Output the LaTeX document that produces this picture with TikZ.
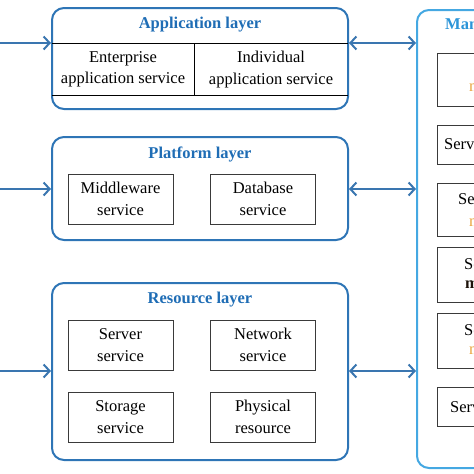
\documentclass[tikz,border=0pt]{standalone}
\usepackage{fontspec}
\setmainfont{Liberation Serif}
\usetikzlibrary{arrows.meta}
\definecolor{layerblue}{HTML}{2E75B6}
\definecolor{titleblue}{HTML}{1F6DB5}
\definecolor{mgmtblue}{HTML}{45A8E2}
\definecolor{mgmttitle}{HTML}{2C95D8}
\definecolor{arrowblue}{HTML}{3A76B0}
\definecolor{boxgray}{HTML}{3A3A3A}
\definecolor{orangetxt}{HTML}{E9A640}
\begin{document}
\begin{tikzpicture}[x=1pt,y=-1pt,
  font=\fontsize{16.5}{21.5}\selectfont,
  layerbox/.style={draw=layerblue, line width=2pt, rounded corners=12pt, minimum width=296pt, inner sep=0pt},
  mgmtbox/.style={draw=mgmtblue, line width=2pt, rounded corners=12pt, inner sep=0pt},
  titletext/.style={text=titleblue, font=\fontsize{16.5}{20}\selectfont\bfseries, inner sep=0pt},
  svcbox/.style={draw=boxgray, line width=0.9pt, minimum width=105pt, minimum height=50pt, align=center, inner sep=0pt},
  cell/.style={minimum height=51pt, align=center, inner sep=0pt},
  frag/.style={anchor=west, inner sep=0pt},
  arr/.style={draw=arrowblue, line width=2pt, -{Straight Barb[length=6pt,width=13pt]}},
  darr/.style={draw=arrowblue, line width=2pt, {Straight Barb[length=6pt,width=13pt]}-{Straight Barb[length=6pt,width=13pt]}}
]
\useasboundingbox (0,0) rectangle (474,474);
\clip (0,0) rectangle (474,474);

% layer boxes
\node[layerbox, minimum height=101pt] (app) at (200,58.5) {};
\node[layerbox, minimum height=103pt] (plat) at (200,188.5) {};
\node[layerbox, minimum height=177pt] (res) at (200,371.5) {};
\node[mgmtbox, minimum width=220pt, minimum height=458pt] (mgmt) at (527,239) {};

% titles
\node[titletext] (apptitle) at (200,25) {Application layer};
\node[titletext] (plattitle) at (200,154) {Platform layer};
\node[titletext] (restitle) at (200,300) {Resource layer};
\node[frag, text=mgmttitle, font=\fontsize{16.5}{20}\selectfont\bfseries] (mgmttitle) at (445,26) {Management layer};

% application layer cells
\node[cell, minimum width=142pt] (ent) at (123,69.5) {Enterprise\\application service};
\node[cell, minimum width=154pt] (ind) at (271,69.5) {Individual\\application service};
\draw[black, line width=0.9pt] (ent.north west) -- (ind.north east);
\draw[black, line width=0.9pt] (ent.south west) -- (ind.south east);
\draw[black, line width=0.9pt] (ent.north east) -- (ent.south east);

% platform layer services
\node[svcbox] (mid) at (120.5,199) {Middleware\\service};
\node[svcbox] (db) at (263,199) {Database\\service};

% resource layer services
\node[svcbox] (srv) at (120.5,345) {Server\\service};
\node[svcbox] (net) at (263,345) {Network\\service};
\node[svcbox] (sto) at (120.5,417) {Storage\\service};
\node[svcbox] (phy) at (263,417) {Physical\\resource};

% management layer boxes (cut off at the right edge)
\node[svcbox, anchor=north west, minimum width=160pt, minimum height=53pt] (m1) at (437,53) {};
\node[svcbox, anchor=north west, minimum width=160pt, minimum height=39pt] (m2) at (437,125) {};
\node[svcbox, anchor=north west, minimum width=160pt, minimum height=53pt] (m3) at (437,183) {};
\node[svcbox, anchor=north west, minimum width=160pt, minimum height=55pt] (m4) at (437,247) {};
\node[svcbox, anchor=north west, minimum width=160pt, minimum height=55pt] (m5) at (437,313) {};
\node[svcbox, anchor=north west, minimum width=160pt, minimum height=39pt] (m6) at (437,387) {};

\node[frag, text=orangetxt] (m1b) at (469,89) {management};
\node[frag] (m2a) at (444,144) {Service};
\node[frag] (m3a) at (458,199) {Service};
\node[frag, text=orangetxt] (m3b) at (469,224) {management};
\node[frag] (m4a) at (464,264) {Service};
\node[frag, font=\fontsize{16.5}{20}\selectfont\bfseries, text=black!85!brown] (m4b) at (465,286) {management};
\node[frag] (m5a) at (464,330) {Service};
\node[frag, text=orangetxt] (m5b) at (469,352) {management};
\node[frag] (m6a) at (450,407) {Service};

% arrows
\coordinate (inA) at (0,43);
\coordinate (inP) at (0,189);
\coordinate (inR) at (0,371);
\draw[arr] (inA) -- (app.west |- inA);
\draw[arr] (inP) -- (plat.west |- inP);
\draw[arr] (inR) -- (res.west |- inR);
\draw[darr] (app.east |- inA) -- (mgmt.west |- inA);
\draw[darr] (plat.east |- inP) -- (mgmt.west |- inP);
\draw[darr] (res.east |- inR) -- (mgmt.west |- inR);
\end{tikzpicture}
\end{document}
